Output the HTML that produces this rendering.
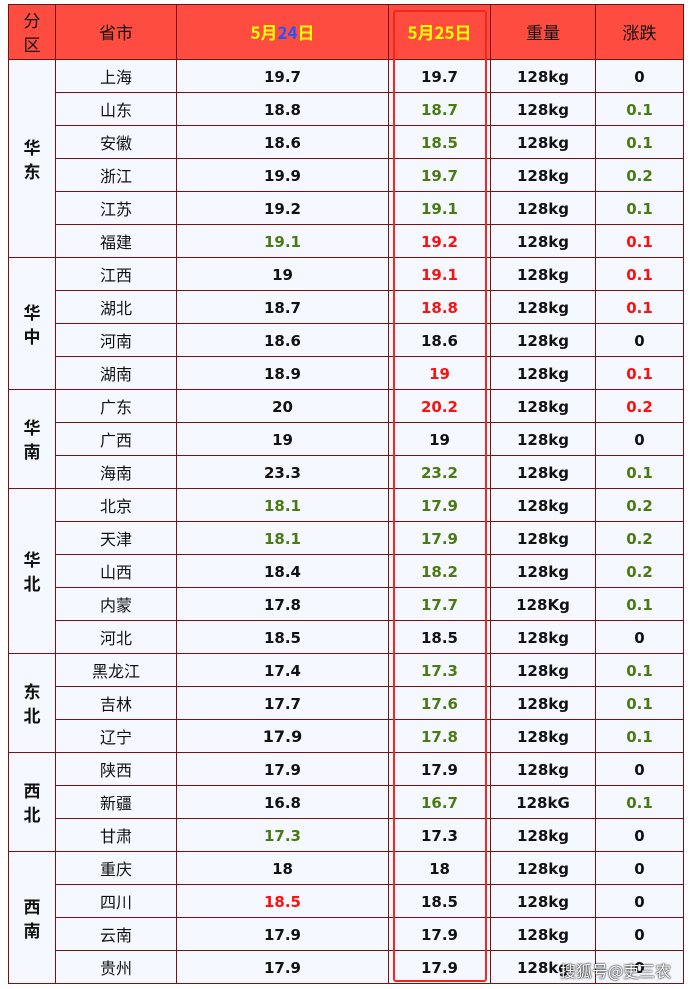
<!DOCTYPE html><html><head><meta charset="utf-8"><style>
body{margin:0;width:690px;height:989px;background:#fff;position:relative;overflow:hidden;font-family:"DejaVu Sans","Noto Sans CJK SC",sans-serif;}
table{position:absolute;left:8px;top:4px;border-collapse:collapse;table-layout:fixed;}
td{border:1px solid #7b1010;height:30px;line-height:30px;padding:2px 0 0 0;text-align:center;vertical-align:middle;font-size:15px;font-weight:bold;color:#111;background:#f5f9ff;}
tr.h td{height:54px;line-height:24px;padding:0;background:#ff4c40;font-weight:normal;font-size:17px;font-family:"Noto Sans CJK SC",sans-serif;}
.y{color:#ffff00;font-weight:bold!important}.b{color:#2255ff}
.g{color:#4a7a12}.r{color:#ff1010}
td.reg{line-height:24px;padding:0;font-size:17px;font-family:"Noto Sans CJK SC",sans-serif;}
td.p{font-weight:normal;height:32px;line-height:32px;padding:0;font-size:16px;font-family:"Noto Sans CJK SC",sans-serif;}
.box{position:absolute;left:393px;top:10px;width:90px;height:968px;border:2px solid #f0281e;border-radius:3px;}
.wm{position:absolute;left:560px;top:958px;color:#fff;font-size:16px;font-family:"Noto Sans CJK SC",sans-serif;text-shadow:0 0 2px #000,0 0 1px #000;}
</style></head><body>
<table>
<colgroup><col style="width:47px"><col style="width:121px"><col style="width:212px"><col style="width:102px"><col style="width:105px"><col style="width:88px"></colgroup>
<tr class="h"><td>分<br>区</td><td>省市</td><td class="y">5月<span class="b">24</span>日</td><td class="y">5月25日</td><td>重量</td><td>涨跌</td></tr>
<tr><td rowspan="6" class="reg">华<br>东</td><td class="p">上海</td><td>19.7</td><td>19.7</td><td>128kg</td><td>0</td></tr>
<tr><td class="p">山东</td><td>18.8</td><td class="g">18.7</td><td>128kg</td><td class="g">0.1</td></tr>
<tr><td class="p">安徽</td><td>18.6</td><td class="g">18.5</td><td>128kg</td><td class="g">0.1</td></tr>
<tr><td class="p">浙江</td><td>19.9</td><td class="g">19.7</td><td>128kg</td><td class="g">0.2</td></tr>
<tr><td class="p">江苏</td><td>19.2</td><td class="g">19.1</td><td>128kg</td><td class="g">0.1</td></tr>
<tr><td class="p">福建</td><td class="g">19.1</td><td class="r">19.2</td><td>128kg</td><td class="r">0.1</td></tr>
<tr><td rowspan="4" class="reg">华<br>中</td><td class="p">江西</td><td>19</td><td class="r">19.1</td><td>128kg</td><td class="r">0.1</td></tr>
<tr><td class="p">湖北</td><td>18.7</td><td class="r">18.8</td><td>128kg</td><td class="r">0.1</td></tr>
<tr><td class="p">河南</td><td>18.6</td><td>18.6</td><td>128kg</td><td>0</td></tr>
<tr><td class="p">湖南</td><td>18.9</td><td class="r">19</td><td>128kg</td><td class="r">0.1</td></tr>
<tr><td rowspan="3" class="reg">华<br>南</td><td class="p">广东</td><td>20</td><td class="r">20.2</td><td>128kg</td><td class="r">0.2</td></tr>
<tr><td class="p">广西</td><td>19</td><td>19</td><td>128kg</td><td>0</td></tr>
<tr><td class="p">海南</td><td>23.3</td><td class="g">23.2</td><td>128kg</td><td class="g">0.1</td></tr>
<tr><td rowspan="5" class="reg">华<br>北</td><td class="p">北京</td><td class="g">18.1</td><td class="g">17.9</td><td>128kg</td><td class="g">0.2</td></tr>
<tr><td class="p">天津</td><td class="g">18.1</td><td class="g">17.9</td><td>128kg</td><td class="g">0.2</td></tr>
<tr><td class="p">山西</td><td>18.4</td><td class="g">18.2</td><td>128kg</td><td class="g">0.2</td></tr>
<tr><td class="p">内蒙</td><td>17.8</td><td class="g">17.7</td><td>128Kg</td><td class="g">0.1</td></tr>
<tr><td class="p">河北</td><td>18.5</td><td>18.5</td><td>128kg</td><td>0</td></tr>
<tr><td rowspan="3" class="reg">东<br>北</td><td class="p">黑龙江</td><td>17.4</td><td class="g">17.3</td><td>128kg</td><td class="g">0.1</td></tr>
<tr><td class="p">吉林</td><td>17.7</td><td class="g">17.6</td><td>128kg</td><td class="g">0.1</td></tr>
<tr><td class="p">辽宁</td><td style="font-size:16px">17.9</td><td class="g">17.8</td><td>128kg</td><td class="g">0.1</td></tr>
<tr><td rowspan="3" class="reg">西<br>北</td><td class="p">陕西</td><td>17.9</td><td>17.9</td><td>128kg</td><td>0</td></tr>
<tr><td class="p">新疆</td><td>16.8</td><td class="g">16.7</td><td>128kG</td><td class="g">0.1</td></tr>
<tr><td class="p">甘肃</td><td class="g">17.3</td><td>17.3</td><td>128kg</td><td>0</td></tr>
<tr><td rowspan="4" class="reg">西<br>南</td><td class="p">重庆</td><td>18</td><td>18</td><td>128kg</td><td>0</td></tr>
<tr><td class="p">四川</td><td class="r">18.5</td><td>18.5</td><td>128kg</td><td>0</td></tr>
<tr><td class="p">云南</td><td>17.9</td><td>17.9</td><td>128kg</td><td>0</td></tr>
<tr><td class="p">贵州</td><td>17.9</td><td>17.9</td><td>128kg</td><td>0</td></tr>
</table>
<div class="box"></div>
<div class="wm">搜狐号@吏三农</div>
</body></html>
